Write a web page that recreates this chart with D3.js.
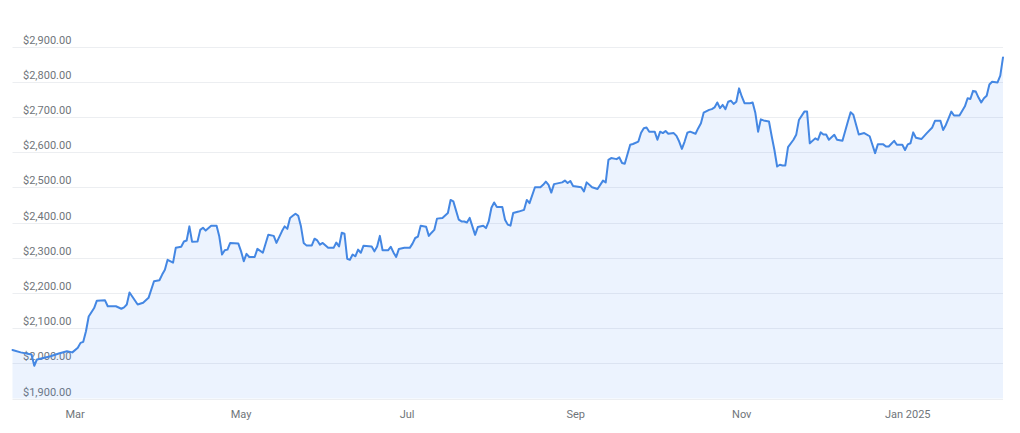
<!DOCTYPE html>
<html>
<head>
<meta charset="utf-8">
<script src="https://cdn.jsdelivr.net/npm/d3@7"></script>
<style>
  html, body { margin: 0; padding: 0; background: #fff; }
  svg { display: block; }
  text { font-family: Roboto, "Noto Sans", Arial, sans-serif; }
</style>
</head>
<body>
<svg id="chart" width="1020" height="433"></svg>
<script>
const dates = [
"2024-02-07","2024-02-10","2024-02-14","2024-02-15","2024-02-16","2024-02-21","2024-02-24","2024-02-27","2024-02-29",
"2024-03-02","2024-03-03","2024-03-04","2024-03-05","2024-03-06","2024-03-08","2024-03-09","2024-03-12","2024-03-13",
"2024-03-16","2024-03-18","2024-03-19","2024-03-20","2024-03-21","2024-03-24","2024-03-26","2024-03-28","2024-03-30",
"2024-04-01","2024-04-02","2024-04-03","2024-04-04","2024-04-06","2024-04-07","2024-04-09","2024-04-10","2024-04-11",
"2024-04-12","2024-04-13","2024-04-15","2024-04-16","2024-04-17","2024-04-18","2024-04-20","2024-04-22","2024-04-23",
"2024-04-24","2024-04-25","2024-04-26","2024-04-27","2024-04-30",
"2024-05-01","2024-05-02","2024-05-03","2024-05-04","2024-05-06","2024-05-07","2024-05-09","2024-05-11","2024-05-13",
"2024-05-14","2024-05-16","2024-05-17","2024-05-18","2024-05-19","2024-05-20","2024-05-21","2024-05-22","2024-05-23",
"2024-05-24","2024-05-25","2024-05-27","2024-05-28","2024-05-29","2024-05-30","2024-05-31",
"2024-06-02","2024-06-04","2024-06-05","2024-06-06","2024-06-07","2024-06-08","2024-06-09","2024-06-10","2024-06-11",
"2024-06-12","2024-06-13","2024-06-14","2024-06-15","2024-06-18","2024-06-19","2024-06-20","2024-06-21","2024-06-22",
"2024-06-24","2024-06-25","2024-06-26","2024-06-27","2024-06-28","2024-06-30",
"2024-07-02","2024-07-03","2024-07-04","2024-07-05","2024-07-06","2024-07-08","2024-07-09","2024-07-10","2024-07-11",
"2024-07-12","2024-07-14","2024-07-16","2024-07-17","2024-07-18","2024-07-20","2024-07-21","2024-07-22","2024-07-23",
"2024-07-24","2024-07-26","2024-07-27","2024-07-29","2024-07-30","2024-07-31",
"2024-08-01","2024-08-02","2024-08-03","2024-08-05","2024-08-06","2024-08-07","2024-08-08","2024-08-09","2024-08-11",
"2024-08-13","2024-08-14","2024-08-15","2024-08-17","2024-08-19","2024-08-20","2024-08-21","2024-08-22","2024-08-23",
"2024-08-24","2024-08-27","2024-08-28","2024-08-29","2024-08-30","2024-08-31",
"2024-09-03","2024-09-04","2024-09-05","2024-09-07","2024-09-09","2024-09-11","2024-09-12","2024-09-13","2024-09-14",
"2024-09-16","2024-09-17","2024-09-18","2024-09-19","2024-09-21","2024-09-22","2024-09-24","2024-09-25","2024-09-26",
"2024-09-27","2024-09-28","2024-09-30",
"2024-10-01","2024-10-02","2024-10-03","2024-10-04","2024-10-05","2024-10-07","2024-10-08","2024-10-09","2024-10-10",
"2024-10-11","2024-10-12","2024-10-13","2024-10-15","2024-10-16","2024-10-17","2024-10-18","2024-10-20","2024-10-21",
"2024-10-22","2024-10-23","2024-10-24","2024-10-25","2024-10-26","2024-10-27","2024-10-28","2024-10-29","2024-10-30",
"2024-10-31",
"2024-11-01","2024-11-02","2024-11-04","2024-11-05","2024-11-06","2024-11-07","2024-11-08","2024-11-09","2024-11-11",
"2024-11-12","2024-11-13","2024-11-14","2024-11-15","2024-11-16","2024-11-17","2024-11-18","2024-11-20","2024-11-21",
"2024-11-22","2024-11-24","2024-11-25","2024-11-26","2024-11-28","2024-11-29","2024-11-30",
"2024-12-01","2024-12-02","2024-12-03","2024-12-05","2024-12-06","2024-12-08","2024-12-10","2024-12-11","2024-12-12",
"2024-12-14","2024-12-16","2024-12-18","2024-12-19","2024-12-20","2024-12-21","2024-12-23","2024-12-24","2024-12-25",
"2024-12-27","2024-12-28","2024-12-30","2024-12-31",
"2025-01-01","2025-01-02","2025-01-03","2025-01-04","2025-01-06","2025-01-08","2025-01-10","2025-01-11","2025-01-13",
"2025-01-14","2025-01-15","2025-01-16","2025-01-17","2025-01-18","2025-01-20","2025-01-22","2025-01-23","2025-01-24",
"2025-01-25","2025-01-26","2025-01-27","2025-01-28","2025-01-29","2025-01-30","2025-01-31",
"2025-02-01","2025-02-03","2025-02-04","2025-02-05"
];
const prices = [
2038,2031,2025,1993,2011,2020,2028,2034,2031,
2044,2058,2061,2091,2133,2157,2178,2179,2162,
2162,2155,2159,2167,2201,2167,2172,2186,2233,
2236,2252,2266,2294,2286,2328,2331,2346,2349,
2389,2345,2346,2379,2385,2377,2391,2391,2360,
2309,2321,2323,2342,2340,
2318,2290,2311,2302,2302,2325,2314,2365,2362,
2342,2375,2389,2382,2413,2419,2425,2419,2389,
2342,2335,2335,2354,2349,2337,2342,
2328,2328,2343,2332,2371,2368,2297,2294,2309,
2304,2323,2314,2334,2332,2318,2332,2362,2321,
2321,2331,2315,2302,2325,2328,
2328,2340,2356,2360,2391,2388,2362,2371,2379,
2411,2413,2427,2464,2460,2408,2403,2403,2400,
2413,2365,2387,2391,2384,2403,
2442,2457,2444,2444,2408,2394,2391,2427,2431,
2436,2464,2455,2500,2500,2507,2516,2507,2485,
2509,2514,2519,2512,2518,2504,
2500,2488,2514,2500,2495,2519,2514,2578,2583,
2580,2585,2569,2567,2621,2623,2630,2655,2668,
2670,2658,2658,
2635,2658,2654,2660,2652,2654,2646,2630,2609,
2630,2655,2658,2652,2668,2682,2712,2720,2722,
2727,2741,2725,2734,2722,2743,2746,2737,2743,
2781,
2758,2739,2739,2741,2711,2658,2693,2690,2687,
2645,2606,2559,2564,2562,2562,2614,2635,2649,
2691,2715,2715,2625,2639,2635,2656,
2650,2650,2635,2649,2635,2632,2687,2713,2706,
2650,2654,2645,2621,2597,2622,2622,2616,2616,
2632,2621,2621,2606,
2622,2625,2656,2641,2637,2654,2670,2689,2689,
2663,2677,2696,2715,2704,2704,2730,2753,2751,
2774,2772,2755,2741,2753,2760,2792,
2800,2798,2817,2869
];
const yTicks = [1900, 2000, 2100, 2200, 2300, 2400, 2500, 2600, 2700, 2800, 2900];
const xTickDates = ["2024-03-01", "2024-05-01", "2024-07-01", "2024-09-01", "2024-11-01", "2025-01-01"];
const xTickLabels = ["Mar", "May", "Jul", "Sep", "Nov", "Jan 2025"];

(function () {
  const parse = d3.utcParse("%Y-%m-%d");
  const data = dates.map((d, i) => ({ date: parse(d), value: prices[i] }));

  const svg = d3.select("#chart");
  const mLeft = 12.5, mRight = 1003, mTop = 46.5, mBottom = 398.5;

  const x = d3.scaleUtc().domain(d3.extent(data, d => d.date)).range([mLeft, mRight]);
  const y = d3.scaleLinear().domain([d3.min(yTicks), d3.max(yTicks)]).range([mBottom, mTop]);

  const fmt = d3.format("$,.2f");
  const labelColor = "#70757a";

  svg.append("g").selectAll("line").data(yTicks).join("line")
    .attr("x1", mLeft).attr("x2", mRight)
    .attr("y1", d => Math.round(y(d)) + 0.5).attr("y2", d => Math.round(y(d)) + 0.5)
    .attr("stroke", "#eceef1").attr("stroke-width", 1);

  svg.append("g").selectAll("text").data(yTicks).join("text")
    .attr("x", 23).attr("y", d => Math.round(y(d)) - 3.5)
    .attr("font-size", 11).attr("fill", labelColor)
    .text(d => fmt(d));

  const area = d3.area().x(d => x(d.date)).y0(mBottom).y1(d => y(d.value));
  svg.append("path").datum(data).attr("d", area)
    .attr("fill", "#4285f4").attr("fill-opacity", 0.1);

  const line = d3.line().x(d => x(d.date)).y(d => y(d.value));
  svg.append("path").datum(data).attr("d", line)
    .attr("fill", "none").attr("stroke", "#4487e3").attr("stroke-width", 2)
    .attr("stroke-linejoin", "round").attr("stroke-linecap", "round");

  svg.append("g").selectAll("text").data(xTickDates).join("text")
    .attr("x", d => x(parse(d))).attr("y", 418)
    .attr("text-anchor", "middle").attr("font-size", 11).attr("fill", labelColor)
    .text((d, i) => xTickLabels[i]);
})();
</script>
</body>
</html>
